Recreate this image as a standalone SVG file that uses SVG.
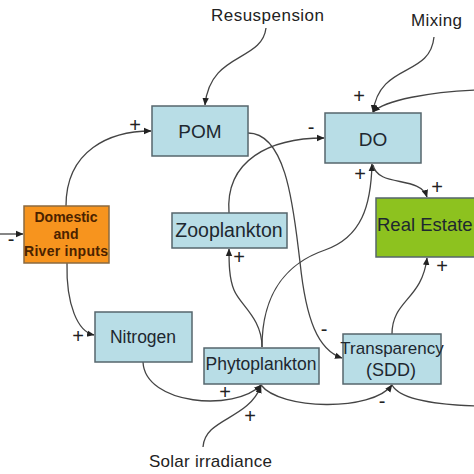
<svg xmlns="http://www.w3.org/2000/svg" width="474" height="474" viewBox="0 0 474 474">
<defs>
<marker id="ah" markerWidth="8" markerHeight="8" refX="7" refY="4" orient="auto" markerUnits="userSpaceOnUse">
<path d="M0,0.8 L7.5,4 L0,7.2 Z" fill="#222"/>
</marker>
</defs>
<style>
.box{fill:#b8dde6;stroke:#56666c;stroke-width:1.5}
.lbl{font-family:"Liberation Sans",Arial,sans-serif;fill:#1e2830;text-anchor:middle}
.ext{font-family:"Liberation Sans",Arial,sans-serif;fill:#222;font-size:17px}
.sg{font-family:"Liberation Sans",Arial,sans-serif;fill:#222;font-size:20px;text-anchor:middle;dominant-baseline:central}
.c{fill:none;stroke:#444;stroke-width:1.3}
.a{marker-end:url(#ah)}
</style>
<rect width="474" height="474" fill="#fff"/>
<g id="connectors">
<path class="c a" d="M266,28 C262,62 210,52 205,105"/>
<path class="c a" d="M434,37 C430,78 380,62 373,112"/>
<path class="c a" d="M476,90 C430,92 385,100 373,112"/>
<path class="c a" d="M66,206 C66,150 110,131 151,131"/>
<path class="c a" d="M67,263 C66,305 78,332 94,335"/>
<path class="c a" d="M0,234 L23,234"/>
<path class="c a" d="M248,133 C288,133 294,215 300,262 C306,320 318,350 342,358"/>
<path class="c a" d="M229,213 C225,160 270,138 324,138"/>
<path class="c a" d="M262,347 C262,318 240,305 234,290 C229,278 229,262 229,249"/>
<path class="c a" d="M262,347 C262,290 290,262 325,250 C362,237 371,205 372,164"/>
<path class="c a" d="M373,165 C378,188 420,175 427,197"/>
<path class="c a" d="M392,334 C392,300 422,300 427,258"/>
<path class="c a" d="M143,362 C145,405 235,412 261,385"/>
<path class="c a" d="M203,447 C205,418 248,420 261,386"/>
<path class="c a" d="M261,385 C280,410 372,412 392,385"/>
<path class="c" d="M392,385 C400,400 440,405 476,406"/>
</g>
<g id="resuspension"><text class="ext" x="211" y="21" textLength="113">Resuspension</text></g>
<g id="mixing"><text class="ext" x="411" y="26" textLength="51">Mixing</text></g>
<g id="solar"><text class="ext" x="149" y="467" textLength="123">Solar irradiance</text></g>
<g id="pom"><rect class="box" x="152" y="106" width="96" height="50"/><text class="lbl" x="200" y="138" font-size="19">POM</text></g>
<g id="do"><rect class="box" x="325" y="113" width="96" height="50"/><text class="lbl" x="373" y="146" font-size="19">DO</text></g>
<g id="realestate"><rect x="376" y="198" width="110" height="59" fill="#8dc21f" stroke="#56666c" stroke-width="1.5"/><text class="lbl" x="377" y="231" font-size="18.5" style="text-anchor:start">Real Estate</text></g>
<g id="domestic"><rect x="24" y="206" width="85" height="57" fill="#f7941e" stroke="#8a6a40" stroke-width="1.5"/>
<text x="66" y="222" font-family="Liberation Sans,Arial,sans-serif" font-weight="bold" font-size="14" fill="#4a2200" text-anchor="middle">Domestic</text>
<text x="66" y="239" font-family="Liberation Sans,Arial,sans-serif" font-weight="bold" font-size="14" fill="#4a2200" text-anchor="middle">and</text>
<text x="66" y="256" font-family="Liberation Sans,Arial,sans-serif" font-weight="bold" font-size="14" fill="#4a2200" text-anchor="middle" textLength="84">River inputs</text></g>
<g id="zooplankton"><rect class="box" x="172" y="213" width="115" height="35"/><text class="lbl" x="229" y="237" font-size="19.5">Zooplankton</text></g>
<g id="nitrogen"><rect class="box" x="95" y="312" width="97" height="50"/><text class="lbl" x="143" y="343" font-size="17.5">Nitrogen</text></g>
<g id="phytoplankton"><rect class="box" x="204" y="348" width="115" height="36"/><text class="lbl" x="261" y="370" font-size="17.5">Phytoplankton</text></g>
<g id="transparency"><rect class="box" x="343" y="334" width="98" height="50"/><text class="lbl" x="392" y="354" font-size="17">Transparency</text><text class="lbl" x="391" y="376" font-size="18">(SDD)</text></g>
<g id="signs">
<text class="sg" x="135" y="125">+</text>
<text class="sg" x="359" y="96">+</text>
<text class="sg" x="311" y="127">-</text>
<text class="sg" x="360" y="174">+</text>
<text class="sg" x="437" y="187">+</text>
<text class="sg" x="442" y="266">+</text>
<text class="sg" x="239" y="257">+</text>
<text class="sg" x="11" y="239">-</text>
<text class="sg" x="78" y="336">+</text>
<text class="sg" x="324" y="329">-</text>
<text class="sg" x="225" y="392">+</text>
<text class="sg" x="250" y="416">+</text>
<text class="sg" x="382" y="401">-</text>
</g>
</svg>
